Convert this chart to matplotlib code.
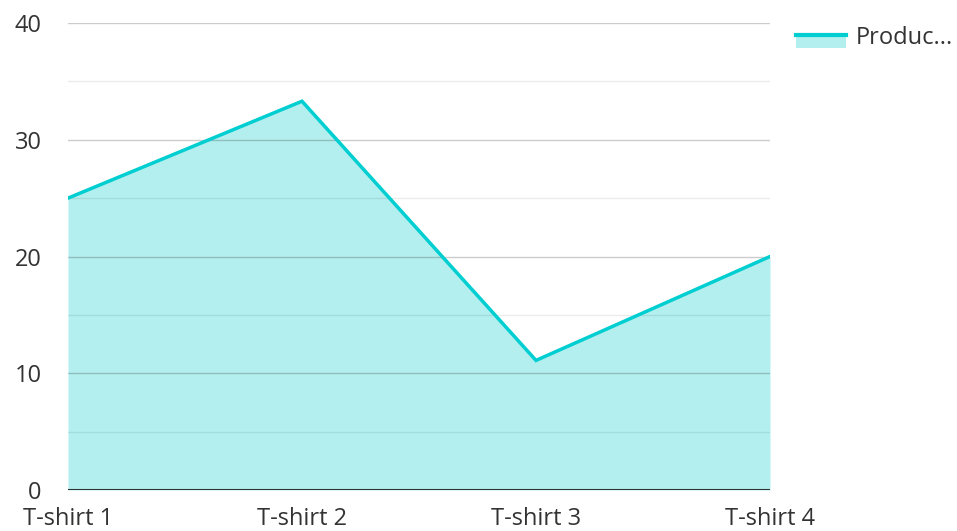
import matplotlib
matplotlib.use("Agg")
import matplotlib.pyplot as plt
from matplotlib.patches import Rectangle
from matplotlib.lines import Line2D

categories = ["T-shirt 1", "T-shirt 2", "T-shirt 3", "T-shirt 4"]
values = [25.0, 33.3, 11.1, 20.0]
series_name = "Produc..."
y_ticks = [0, 10, 20, 30, 40]
y_minor = [5, 15, 25, 35]

plt.rcParams['font.family'] = ['Open Sans', 'DejaVu Sans']

line_color = "#00CED1"
fill_color = "#B2EFEE"

fig = plt.figure(figsize=(9.57, 5.31), dpi=100)
ax = fig.add_axes([68/957, 1-490/531, (770-68)/957, (490-23)/531])

x = list(range(len(categories)))
ax.fill_between(x, values, 0, color=fill_color, lw=0, zorder=1)
ax.plot(x, values, color=line_color, lw=2.5, zorder=3, solid_joinstyle='miter')

for v in y_ticks[1:]:
    ax.axhline(v, color="#000000", alpha=0.2, lw=1, zorder=2)
for v in y_minor:
    ax.axhline(v, color="#000000", alpha=0.08, lw=1, zorder=2)
ax.axhline(0, color="#333333", lw=1.5, zorder=4)

ax.set_xlim(0, len(categories)-1)
ax.set_ylim(0, 40)
ax.set_yticks(y_ticks)
ax.set_yticklabels([str(v) for v in y_ticks])
ax.set_xticks(x)
ax.set_xticklabels(categories)
ax.tick_params(axis='both', length=0, labelsize=17, colors="#333333")
ax.tick_params(axis='y', pad=19)
ax.tick_params(axis='x', pad=12)
for s in ax.spines.values():
    s.set_visible(False)


class AreaHandler:
    def legend_artist(self, legend, orig_handle, fontsize, handlebox):
        x0, y0 = handlebox.xdescent, handlebox.ydescent
        w, h = handlebox.width, handlebox.height
        rect = Rectangle((x0, y0 - 0.25 * h), w, 0.75 * h, facecolor=fill_color,
                         edgecolor='none', transform=handlebox.get_transform())
        ln = Line2D([x0, x0 + w], [y0 + 0.55 * h, y0 + 0.55 * h], color=line_color, lw=3,
                    transform=handlebox.get_transform())
        handlebox.add_artist(rect)
        handlebox.add_artist(ln)
        return rect


proxy = Rectangle((0, 0), 1, 1)
leg = fig.legend([proxy], [series_name], loc='upper left', bbox_to_anchor=(775/957, 1-5/531),
                 frameon=False, fontsize=17, handlelength=2.1, handletextpad=0.42,
                 handler_map={Rectangle: AreaHandler()})
for t in leg.get_texts():
    t.set_color("#333333")

fig.savefig("out.png", dpi=100)
